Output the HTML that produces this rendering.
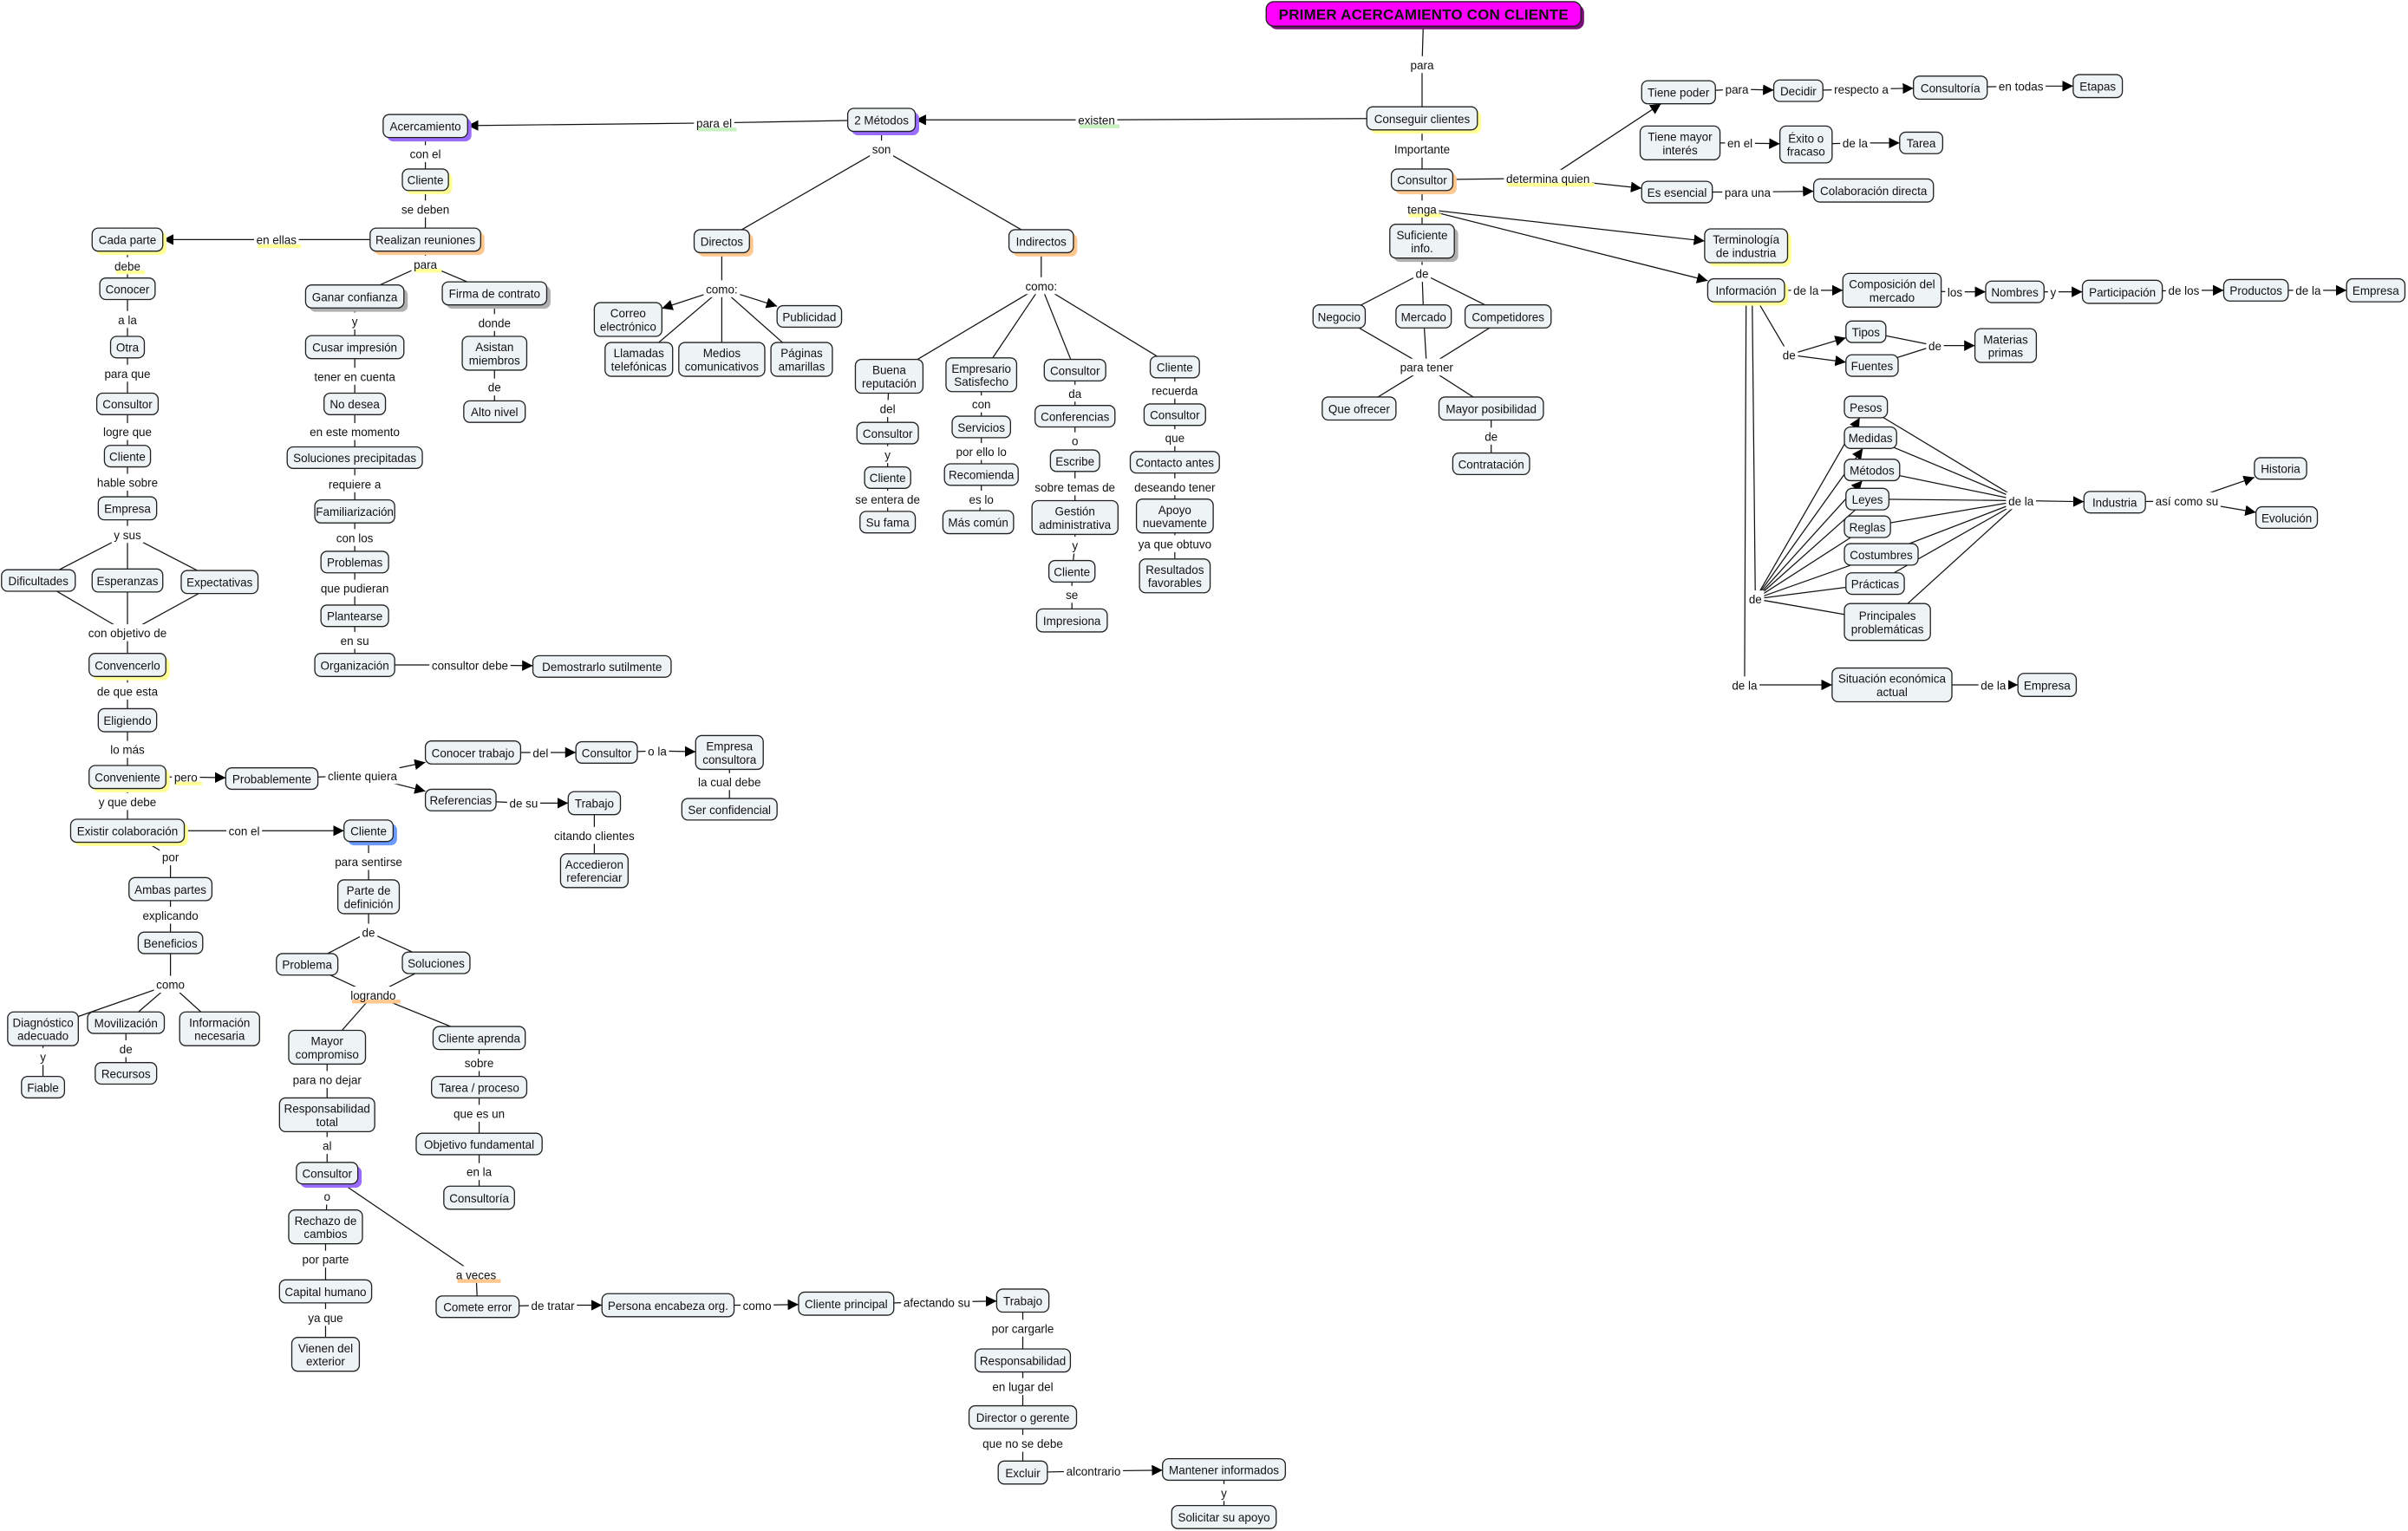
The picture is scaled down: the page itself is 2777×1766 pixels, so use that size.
<!DOCTYPE html>
<html><head><meta charset="utf-8"><style>
html,body{margin:0;padding:0;background:#fff;}
svg{display:block;}
text{font-family:"Liberation Sans","DejaVu Sans",sans-serif;font-size:7.6px;fill:#111;}
</style></head><body>
<svg id="s" width="2777" height="1766" viewBox="0 0 1568 997" xmlns="http://www.w3.org/2000/svg">
<defs><marker id="ar" viewBox="0 0 10 10" refX="10" refY="5" markerWidth="7" markerHeight="7" orient="auto" markerUnits="userSpaceOnUse"><path d="M0,0L10,5L0,10z" fill="#000"/></marker></defs>
<g id="L"></g><g id="B"></g><g id="N"></g>
</svg>
<script>
var NS="http://www.w3.org/2000/svg";
var nodes={},labs={};
var SH={y:"#ffff99",o:"#ffc890",p:"#9a6cff",b:"#6b9bff",g:"#b0b0b0"};
function N(id,x,y,w,h,t,s){nodes[id]={x:x,y:y,w:w,h:h,t:t,s:s};}
function T(id,x,y,t,hl){labs[id]={x:x,y:y,t:t,hl:hl};}
var edges=[];
function E(a,b,ar){edges.push([a,b,ar]);}
function P(id){return nodes[id]||labs[id];}
N('title',927,9,205,16,'PRIMER ACERCAMIENTO CON CLIENTE','m');
T('l_para0',926,42,'para');
N('cons',926,77,72,15,'Conseguir clientes','y');
T('l_exist',714,78,'existen','#c8f0c0');
N('met',574,78,44,15,'2 Métodos','p');
T('l_parael',465,80,'para el','#c8f0c0');
N('acer',277,82,55,15,'Acercamiento','p');
T('l_imp',926,97,'Importante');
N('consul',926,117,40,14,'Consultor','o');
T('l_det',1008,116,'determina quien','#ffff99');
N('tpod',1093,60,48,15,'Tiene poder');
T('l_p1',1131,58,'para');
N('dec',1171,59,32,14,'Decidir');
T('l_resp',1212,58,'respecto a');
N('cons2',1270,57,48,15,'Consultoría');
T('l_ent',1316,56,'en todas');
N('etap',1366,56,32,15,'Etapas');
N('tmay',1094,93,52,22,'Tiene mayor\ninterés');
T('l_enel',1133,93,'en el');
N('exit',1176,94,34,24,'Éxito o\nfracaso');
T('l_dela1',1208,93,'de la');
N('tar',1251,93,28,14,'Tarea');
N('esen',1092,125,46,14,'Es esencial');
T('l_pu',1138,125,'para una');
N('colab',1220,124,78,15,'Colaboración directa');
T('l_tenga',926,136,'tenga','#ffff99');
N('suf',926,157,42,22,'Suficiente\ninfo.','g');
N('term',1137,160,54,22,'Terminología\nde industria','y');
N('info',1137,189,50,15,'Información','y');
T('l_dl2',1176,189,'de la');
N('comp',1232,189,64,22,'Composición del\nmercado');
T('l_los',1273,190,'los');
N('nomb',1312,190,38,14,'Nombres');
T('l_y1',1337,190,'y');
N('part',1382,190,52,15,'Participación');
T('l_delos',1422,189,'de los');
N('prod',1469,189,42,14,'Productos');
T('l_dl3',1503,189,'de la');
N('emp1',1547,189,38,15,'Empresa');
T('l_de1',1165,231,'de');
N('tipos',1215,216,26,14,'Tipos');
N('fuen',1219,238,34,14,'Fuentes');
T('l_de2',1260,225,'de');
N('mat',1306,225,40,22,'Materias\nprimas');
T('l_de3',1143,390,'de');
N('pes',1215,265,28,14,'Pesos');
N('med',1218,285,34,14,'Medidas');
N('mtd',1219,306,36,14,'Métodos');
N('ley',1216,325,28,14,'Leyes');
N('reg',1216,343,30,14,'Reglas');
N('cost',1225,361,48,14,'Costumbres');
N('prac',1221,380,38,14,'Prácticas');
N('prin',1229,405,56,24,'Principales\nproblemáticas');
T('l_dl4',1316,326,'de la');
N('ind',1377,327,40,14,'Industria');
T('l_asi',1424,326,'así como su');
N('hist',1485,305,34,14,'Historia');
N('evol',1489,337,40,14,'Evolución');
T('l_dl5',1136,446,'de la');
N('sit',1232,446,78,22,'Situación económica\nactual');
T('l_dl6',1298,446,'de la');
N('emp2',1333,446,38,15,'Empresa');
T('l_de4',926,178,'de');
N('neg',872,206,34,15,'Negocio');
N('merc',927,206,36,15,'Mercado');
N('compt',982,206,56,15,'Competidores');
T('l_pt',929,239,'para tener');
N('qof',885,266,48,15,'Que ofrecer');
N('mpos',971,266,68,15,'Mayor posibilidad');
T('l_de5',971,284,'de');
N('contr',971,302,50,14,'Contratación');
T('l_son',574,97,'son');
N('dir',470,157,36,15,'Directos','o');
N('indi',678,157,42,15,'Indirectos','o');
T('l_como1',470,188,'como:');
N('corr',409,208,44,22,'Correo\nelectrónico');
N('publ',527,206,42,14,'Publicidad');
N('llam',416,234,44,22,'Llamadas\ntelefónicas');
N('medi',470,234,56,22,'Medios\ncomunicativos');
N('pag',522,234,40,22,'Páginas\namarillas');
T('l_como2',678,186,'como:');
N('buena',579,245,44,22,'Buena\nreputación');
N('empr',639,244,46,22,'Empresario\nSatisfecho');
N('consm',700,241,40,14,'Consultor');
N('clim',765,239,32,14,'Cliente');
T('l_del1',578,266,'del');
N('c1',578,282,40,14,'Consultor');
T('l_y2',578,296,'y');
N('c2',578,311,30,14,'Cliente');
T('l_se',578,325,'se entera de');
N('c3',578,340,36,14,'Su fama');
T('l_con1',639,263,'con');
N('e1',639,278,38,14,'Servicios');
T('l_pel',639,294,'por ello lo');
N('e2',639,309,48,14,'Recomienda');
T('l_esl',639,325,'es lo');
N('e3',637,340,46,15,'Más común');
T('l_da',700,256,'da');
N('m1',700,271,52,14,'Conferencias');
T('l_o1',700,287,'o');
N('m2',700,300,32,14,'Escribe');
T('l_stm',700,317,'sobre temas de');
N('m3',700,337,56,22,'Gestión\nadministrativa');
T('l_y3',700,355,'y');
N('m4',698,372,30,14,'Cliente');
T('l_se2',698,387,'se');
N('m5',698,404,46,15,'Impresiona');
T('l_rec',765,254,'recuerda');
N('k1',765,270,40,14,'Consultor');
T('l_que',765,285,'que');
N('k2',765,301,58,14,'Contacto antes');
T('l_des',765,317,'deseando tener');
N('k3',765,336,50,22,'Apoyo\nnuevamente');
T('l_yqo',765,354,'ya que obtuvo');
N('k4',765,375,46,22,'Resultados\nfavorables');
T('l_conel',277,100,'con el');
N('cli',277,117,30,14,'Cliente','y');
T('l_sed',277,136,'se deben');
N('reu',277,156,72,15,'Realizan reuniones','o');
T('l_enell',180,156,'en ellas','#ffff99');
N('cada',83,156,46,15,'Cada parte','y');
T('l_para2',277,172,'para','#ffff99');
N('gan',231,193,64,15,'Ganar confianza','g');
N('firm',322,191,68,15,'Firma de contrato','g');
T('l_debe',83,173,'debe','#ffff99');
N('conoc',83,188,36,14,'Conocer');
T('l_ala',83,208,'a la');
N('otra',83,226,22,14,'Otra');
T('l_pq',83,243,'para que');
N('a1',83,263,40,14,'Consultor');
T('l_lq',83,281,'logre que');
N('a2',83,297,30,14,'Cliente');
T('l_hs',83,314,'hable sobre');
N('a3',83,331,38,15,'Empresa');
T('l_ysus',83,348,'y sus');
N('dif',25,378,48,14,'Dificultades');
N('esp',83,378,46,15,'Esperanzas');
N('expc',143,379,50,15,'Expectativas');
T('l_cod',83,412,'con objetivo de');
N('conv',83,433,50,15,'Convencerlo','y');
T('l_dqe',83,450,'de que esta');
N('eleg',83,469,38,15,'Eligiendo');
T('l_lm',83,488,'lo más');
N('conve',83,506,50,15,'Conveniente','y');
T('l_pero',121,506,'pero','#ffff99');
N('prob',177,507,60,14,'Probablemente');
T('l_cq',236,505,'cliente quiera');
N('ctra',308,490,62,15,'Conocer trabajo');
N('refe',300,521,46,14,'Referencias');
T('l_del2',352,490,'del');
N('b1',395,490,40,14,'Consultor');
T('l_ola',428,489,'o la');
N('b2',475,490,44,22,'Empresa\nconsultora');
T('l_lcd',475,509,'la cual debe');
N('b3',475,527,62,14,'Ser confidencial');
T('l_desu',341,523,'de su');
N('r1',387,523,34,15,'Trabajo');
T('l_cc',387,544,'citando clientes');
N('r2',387,567,44,22,'Accedieron\nreferenciar');
T('l_yqd',83,522,'y que debe');
N('exis',83,541,74,15,'Existir colaboración','y');
T('l_conel2',159,541,'con el');
N('cli2',240,541,32,14,'Cliente','b');
T('l_ps',240,561,'para sentirse');
N('pdef',240,584,40,22,'Parte de\ndefinición');
T('l_de6',240,607,'de');
N('probl',200,628,40,14,'Problema');
N('sol',284,627,44,14,'Soluciones');
T('l_log',243,648,'logrando','#ffc890');
N('mcom',213,682,50,22,'Mayor\ncompromiso');
N('capr',312,676,60,15,'Cliente aprenda');
T('l_sob',312,692,'sobre');
N('tp',312,708,62,14,'Tarea / proceso');
T('l_qeu',312,725,'que es un');
N('obj',312,745,82,14,'Objetivo fundamental');
T('l_enla',312,763,'en la');
N('csl',312,780,46,15,'Consultoría');
T('l_pnd',213,703,'para no dejar');
N('rtot',213,726,62,22,'Responsabilidad\ntotal');
T('l_al',213,746,'al');
N('c4',213,764,40,14,'Consultor','p');
T('l_o2',213,779,'o');
N('rech',212,799,48,22,'Rechazo de\ncambios');
T('l_pp',212,820,'por parte');
N('cap',212,841,60,15,'Capital humano');
T('l_yq',212,858,'ya que');
N('vien',212,882,44,22,'Vienen del\nexterior');
T('l_av',310,830,'a veces','#ffc890');
N('come',311,851,54,14,'Comete error');
T('l_dt',360,850,'de tratar');
N('pers',435,850,86,15,'Persona encabeza org.');
T('l_como3',493,850,'como');
N('cpri',551,849,62,15,'Cliente principal');
T('l_afs',610,848,'afectando su');
N('trab',666,847,34,15,'Trabajo');
T('l_pc',666,865,'por cargarle');
N('resp',666,886,62,15,'Responsabilidad');
T('l_eld',666,903,'en lugar del');
N('dir2',666,923,70,15,'Director o gerente');
T('l_qnd',666,940,'que no se debe');
N('excl',666,959,32,15,'Excluir');
T('l_alc',712,958,'alcontrario');
N('mant',797,957,80,14,'Mantener informados');
T('l_y4',797,972,'y');
N('soli',797,988,68,15,'Solicitar su apoyo');
T('l_por',111,558,'por');
N('amb',111,579,54,15,'Ambas partes');
T('l_exp',111,596,'explicando');
N('ben',111,614,42,14,'Beneficios');
T('l_como4',111,641,'como');
N('diag',28,670,46,22,'Diagnóstico\nadecuado');
N('movi',82,666,50,14,'Movilización');
N('infn',143,670,52,22,'Información\nnecesaria');
T('l_y5',28,688,'y');
N('fia',28,708,28,14,'Fiable');
T('l_de7',82,683,'de');
N('recu',82,699,40,14,'Recursos');
T('l_y6',231,209,'y');
N('cus',231,226,64,15,'Cusar impresión');
T('l_tec',231,245,'tener en cuenta');
N('nod',231,263,40,14,'No desea');
T('l_eem',231,281,'en este momento');
N('solp',231,298,88,14,'Soluciones precipitadas');
T('l_ra',231,315,'requiere a');
N('fam',231,333,52,15,'Familiarización');
T('l_cl',231,350,'con los');
N('prbs',231,366,44,14,'Problemas');
T('l_qp',231,383,'que pudieran');
N('plan',231,401,44,14,'Plantearse');
T('l_ensu',231,417,'en su');
N('org',231,433,52,15,'Organización');
T('l_cd',306,433,'consultor debe');
N('demo',392,434,90,14,'Demostrarlo sutilmente');
T('l_dond',322,210,'donde');
N('asis',322,230,42,22,'Asistan\nmiembros');
T('l_de8',322,252,'de');
N('alto',322,268,40,14,'Alto nivel');

function ch(){var a=arguments;for(var i=0;i<a.length-1;i++)E(a[i],a[i+1],0);}
ch('title','l_para0','cons');
ch('cons','l_exist');E('l_exist','met',1);
ch('met','l_parael');E('l_parael','acer',1);
ch('cons','l_imp','consul','l_det');E('l_det','tpod',1);E('l_det','esen',1);
ch('tpod','l_p1');E('l_p1','dec',1);ch('dec','l_resp');E('l_resp','cons2',1);ch('cons2','l_ent');E('l_ent','etap',1);
ch('tmay','l_enel');E('l_enel','exit',1);ch('exit','l_dela1');E('l_dela1','tar',1);
ch('esen','l_pu');E('l_pu','colab',1);
ch('consul','l_tenga','suf');E('l_tenga','term',1);E('l_tenga','info',1);
ch('info','l_dl2');E('l_dl2','comp',1);ch('comp','l_los');E('l_los','nomb',1);ch('nomb','l_y1');E('l_y1','part',1);ch('part','l_delos');E('l_delos','prod',1);ch('prod','l_dl3');E('l_dl3','emp1',1);
edges.push([[1145,197],'l_de1',0]);E('l_de1','tipos',1);E('l_de1','fuen',1);
ch('tipos','l_de2');ch('fuen','l_de2');E('l_de2','mat',1);
edges.push([[1141,197],'l_de3',0]);
E('l_de3','pes',1);E('l_de3','med',1);E('l_de3','mtd',1);
['ley','reg','cost','prac','prin'].forEach(function(k){E('l_de3',k,0);});
['pes','med','mtd','ley','reg','cost','prac','prin'].forEach(function(k){E(k,'l_dl4',0);});
E('l_dl4','ind',1);ch('ind','l_asi');E('l_asi','hist',1);E('l_asi','evol',1);
edges.push([[1137,197],'l_dl5',0]);E('l_dl5','sit',1);ch('sit','l_dl6');E('l_dl6','emp2',1);
ch('suf','l_de4');ch('l_de4','neg');ch('l_de4','merc');ch('l_de4','compt');
ch('neg','l_pt');ch('merc','l_pt');ch('compt','l_pt');ch('l_pt','qof');ch('l_pt','mpos');ch('mpos','l_de5','contr');
ch('met','l_son','dir');ch('l_son','indi');
ch('dir','l_como1');E('l_como1','corr',1);E('l_como1','publ',1);ch('l_como1','llam');ch('l_como1','medi');ch('l_como1','pag');
ch('indi','l_como2');ch('l_como2','buena');ch('l_como2','empr');ch('l_como2','consm');ch('l_como2','clim');
ch('buena','l_del1','c1','l_y2','c2','l_se','c3');
ch('empr','l_con1','e1','l_pel','e2','l_esl','e3');
ch('consm','l_da','m1','l_o1','m2','l_stm','m3','l_y3','m4','l_se2','m5');
ch('clim','l_rec','k1','l_que','k2','l_des','k3','l_yqo','k4');
ch('acer','l_conel','cli','l_sed','reu','l_enell');E('l_enell','cada',1);
ch('reu','l_para2','gan');ch('l_para2','firm');
ch('cada','l_debe','conoc','l_ala','otra','l_pq','a1','l_lq','a2','l_hs','a3','l_ysus');
ch('l_ysus','dif');ch('l_ysus','esp');ch('l_ysus','expc');
ch('dif','l_cod');ch('esp','l_cod');ch('expc','l_cod');
ch('l_cod','conv','l_dqe','eleg','l_lm','conve','l_pero');E('l_pero','prob',1);
ch('prob','l_cq');E('l_cq','ctra',1);E('l_cq','refe',1);
ch('ctra','l_del2');E('l_del2','b1',1);ch('b1','l_ola');E('l_ola','b2',1);ch('b2','l_lcd','b3');
ch('refe','l_desu');E('l_desu','r1',1);ch('r1','l_cc','r2');
ch('conve','l_yqd','exis','l_conel2');E('l_conel2','cli2',1);
ch('cli2','l_ps','pdef','l_de6','probl');ch('l_de6','sol');
ch('probl','l_log');ch('sol','l_log');ch('l_log','mcom');ch('l_log','capr');
ch('capr','l_sob','tp','l_qeu','obj','l_enla','csl');
ch('mcom','l_pnd','rtot','l_al','c4','l_o2','rech','l_pp','cap','l_yq','vien');
ch('c4','l_av','come','l_dt');E('l_dt','pers',1);ch('pers','l_como3');E('l_como3','cpri',1);ch('cpri','l_afs');E('l_afs','trab',1);
ch('trab','l_pc','resp','l_eld','dir2','l_qnd','excl','l_alc');E('l_alc','mant',1);ch('mant','l_y4','soli');
ch('exis','l_por','amb','l_exp','ben','l_como4');ch('l_como4','diag');ch('l_como4','movi');ch('l_como4','infn');
ch('diag','l_y5','fia');ch('movi','l_de7','recu');
ch('gan','l_y6','cus','l_tec','nod','l_eem','solp','l_ra','fam','l_cl','prbs','l_qp','plan','l_ensu','org','l_cd');E('l_cd','demo',1);
ch('firm','l_dond','asis','l_de8','alto');

function el(n,a,p){var e=document.createElementNS(NS,n);for(var k in a)e.setAttribute(k,a[k]);p&&p.appendChild(e);return e;}
var GL=document.getElementById('L'),GB=document.getElementById('B'),GN=document.getElementById('N');
edges.forEach(function(e){
 var a=Array.isArray(e[0])?{x:e[0][0],y:e[0][1]}:P(e[0]),b=P(e[1]);
 var x2=b.x,y2=b.y;
 if(e[2]&&nodes[e[1]]){var dx=b.x-a.x,dy=b.y-a.y;var t=Math.min(dx?(b.w/2)/Math.abs(dx):1e9,dy?(b.h/2)/Math.abs(dy):1e9);x2=b.x-t*dx;y2=b.y-t*dy;}
 var at={x1:a.x,y1:a.y,x2:x2,y2:y2,stroke:'#111','stroke-width':0.7};
 if(e[2])at['marker-end']='url(#ar)';
 el('line',at,GL);
});
for(var k in labs){var l=labs[k];
 var t=el('text',{x:l.x,y:l.y+3,'text-anchor':'middle'},GB);t.textContent=l.t;
 var w=t.getComputedTextLength();
 var r=el('rect',{x:l.x-w/2-1.5,y:l.y-5.5,width:w+3,height:11,fill:'#fff'});GB.insertBefore(r,t);
 if(l.hl){var h=el('rect',{x:l.x-w/2+1,y:l.y+3,width:w+2,height:2.5,fill:l.hl});GB.insertBefore(h,t);}
}
for(var k in nodes){var n=nodes[k];
 var x=n.x-n.w/2,y=n.y-n.h/2;
 if(n.s==='m'){
  el('rect',{x:x+2,y:y+2,width:n.w,height:n.h,rx:5,fill:'#7a0f7a'},GN);
  el('rect',{x:x,y:y,width:n.w,height:n.h,rx:5,fill:'#ff00ff',stroke:'#222','stroke-width':0.8},GN);
  var t=el('text',{x:n.x,y:n.y+3.5,'text-anchor':'middle',style:'font-size:9.6px;font-weight:bold;letter-spacing:0.1px'},GN);t.textContent=n.t;continue;
 }
 if(n.s&&SH[n.s])el('rect',{x:x+2.5,y:y+2.5,width:n.w,height:n.h,rx:4,fill:SH[n.s]},GN);
 el('rect',{x:x,y:y,width:n.w,height:n.h,rx:4,fill:'#eef3f5',stroke:'#222','stroke-width':0.75},GN);
 var ls=n.t.split('\n');
 ls.forEach(function(s,i){var t=el('text',{x:n.x,y:n.y+3-(ls.length-1)*4.3+i*8.6,'text-anchor':'middle'},GN);t.textContent=s;});
}
</script>
</body></html>
